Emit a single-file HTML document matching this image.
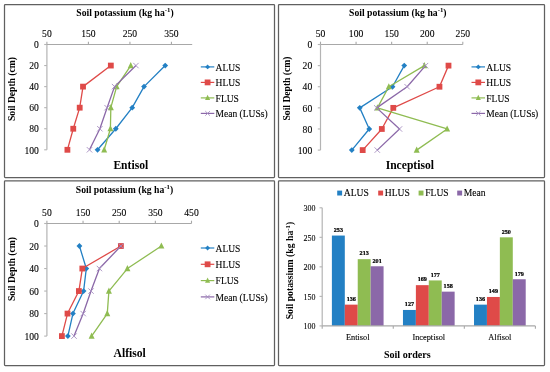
<!DOCTYPE html><html><head><meta charset="utf-8"><style>html,body{margin:0;padding:0;background:#fff;}svg{display:block;filter:blur(0.3px);}</style></head><body><svg width="550" height="372" viewBox="0 0 550 372" font-family='"Liberation Serif", serif' fill="#000">
<rect width="550" height="372" fill="#fff"/>
<rect x="4.5" y="4.5" width="270.0" height="173.0" fill="none" stroke="#606060" stroke-width="1.25" rx="0.8"/>
<rect x="278.5" y="4.5" width="266.0" height="173.0" fill="none" stroke="#606060" stroke-width="1.25" rx="0.8"/>
<rect x="4.5" y="180.8" width="270.0" height="184.7" fill="none" stroke="#606060" stroke-width="1.25" rx="0.8"/>
<rect x="278.5" y="180.8" width="266.0" height="184.7" fill="none" stroke="#606060" stroke-width="1.25" rx="0.8"/>
<path d="M46.9 44.5V149.8" stroke="#b4b4b4" stroke-width="1.2" fill="none"/>
<path d="M46.9 44.5H192.2" stroke="#a8a8a8" stroke-width="1.1" fill="none"/>
<path d="M44.20 44.50H46.9" stroke="#b4b4b4" stroke-width="1.1"/>
<text x="38.8" y="48.2" font-size="9.6" text-anchor="end" font-weight="normal" stroke="currentColor" stroke-width="0.1" >0</text>
<path d="M44.20 65.56H46.9" stroke="#b4b4b4" stroke-width="1.1"/>
<text x="38.8" y="69.26" font-size="9.6" text-anchor="end" font-weight="normal" stroke="currentColor" stroke-width="0.1" >20</text>
<path d="M44.20 86.62H46.9" stroke="#b4b4b4" stroke-width="1.1"/>
<text x="38.8" y="90.32" font-size="9.6" text-anchor="end" font-weight="normal" stroke="currentColor" stroke-width="0.1" >40</text>
<path d="M44.20 107.68H46.9" stroke="#b4b4b4" stroke-width="1.1"/>
<text x="38.8" y="111.38" font-size="9.6" text-anchor="end" font-weight="normal" stroke="currentColor" stroke-width="0.1" >60</text>
<path d="M44.20 128.74H46.9" stroke="#b4b4b4" stroke-width="1.1"/>
<text x="38.8" y="132.44" font-size="9.6" text-anchor="end" font-weight="normal" stroke="currentColor" stroke-width="0.1" >80</text>
<path d="M44.20 149.80H46.9" stroke="#b4b4b4" stroke-width="1.1"/>
<text x="38.8" y="153.5" font-size="9.6" text-anchor="end" font-weight="normal" stroke="currentColor" stroke-width="0.1" >100</text>
<path d="M46.90 41.7V44.5" stroke="#a8a8a8" stroke-width="1.1"/>
<text x="46.9" y="36.9" font-size="9.6" text-anchor="middle" font-weight="normal" stroke="currentColor" stroke-width="0.1" >50</text>
<path d="M88.41 41.7V44.5" stroke="#a8a8a8" stroke-width="1.1"/>
<text x="88.41" y="36.9" font-size="9.6" text-anchor="middle" font-weight="normal" stroke="currentColor" stroke-width="0.1" >150</text>
<path d="M129.93 41.7V44.5" stroke="#a8a8a8" stroke-width="1.1"/>
<text x="129.93" y="36.9" font-size="9.6" text-anchor="middle" font-weight="normal" stroke="currentColor" stroke-width="0.1" >250</text>
<path d="M171.44 41.7V44.5" stroke="#a8a8a8" stroke-width="1.1"/>
<text x="171.44" y="36.9" font-size="9.6" text-anchor="middle" font-weight="normal" stroke="currentColor" stroke-width="0.1" >350</text>
<path d="M165.22 65.56L144.04 86.62L132.21 107.68L115.81 128.74L97.55 149.80" stroke="#2380c4" stroke-width="1.3" fill="none" stroke-linejoin="round"/>
<path d="M165.22 62.66L168.12 65.56L165.22 68.46L162.32 65.56Z" fill="#2380c4"/>
<path d="M144.04 83.72L146.94 86.62L144.04 89.52L141.14 86.62Z" fill="#2380c4"/>
<path d="M132.21 104.78L135.11 107.68L132.21 110.58L129.31 107.68Z" fill="#2380c4"/>
<path d="M115.81 125.84L118.71 128.74L115.81 131.64L112.91 128.74Z" fill="#2380c4"/>
<path d="M97.55 146.90L100.45 149.80L97.55 152.70L94.65 149.80Z" fill="#2380c4"/>
<path d="M110.83 65.56L83.02 86.62L79.70 107.68L73.26 128.74L67.41 149.80" stroke="#df4a48" stroke-width="1.3" fill="none" stroke-linejoin="round"/>
<rect x="107.93" y="62.66" width="5.80" height="5.80" fill="#df4a48"/>
<rect x="80.12" y="83.72" width="5.80" height="5.80" fill="#df4a48"/>
<rect x="76.80" y="104.78" width="5.80" height="5.80" fill="#df4a48"/>
<rect x="70.36" y="125.84" width="5.80" height="5.80" fill="#df4a48"/>
<rect x="64.51" y="146.90" width="5.80" height="5.80" fill="#df4a48"/>
<path d="M130.76 65.56L116.64 86.62L110.83 107.68L110.42 128.74L104.19 149.80" stroke="#8fbc52" stroke-width="1.3" fill="none" stroke-linejoin="round"/>
<path d="M130.76 61.96L133.76 68.16L127.76 68.16Z" fill="#8fbc52"/>
<path d="M116.64 83.02L119.64 89.22L113.64 89.22Z" fill="#8fbc52"/>
<path d="M110.83 104.08L113.83 110.28L107.83 110.28Z" fill="#8fbc52"/>
<path d="M110.42 125.14L113.42 131.34L107.42 131.34Z" fill="#8fbc52"/>
<path d="M104.19 146.20L107.19 152.40L101.19 152.40Z" fill="#8fbc52"/>
<path d="M135.95 65.56L114.57 86.62L107.10 107.68L99.87 128.74L89.49 149.80" stroke="#8b68a8" stroke-width="1.3" fill="none" stroke-linejoin="round"/>
<path d="M133.25 62.86L138.65 68.26M138.65 62.86L133.25 68.26" stroke="#a58cc0" stroke-width="0.9" fill="none"/>
<path d="M111.87 83.92L117.27 89.32M117.27 83.92L111.87 89.32" stroke="#a58cc0" stroke-width="0.9" fill="none"/>
<path d="M104.40 104.98L109.80 110.38M109.80 104.98L104.40 110.38" stroke="#a58cc0" stroke-width="0.9" fill="none"/>
<path d="M97.17 126.04L102.57 131.44M102.57 126.04L97.17 131.44" stroke="#a58cc0" stroke-width="0.9" fill="none"/>
<path d="M86.79 147.10L92.19 152.50M92.19 147.10L86.79 152.50" stroke="#a58cc0" stroke-width="0.9" fill="none"/>
<path d="M200.8 66.90H214.3" stroke="#2380c4" stroke-width="1.2"/>
<path d="M207.60 64.44L210.07 66.90L207.60 69.37L205.14 66.90Z" fill="#2380c4"/>
<text x="215.60000000000002" y="70.5" font-size="9.5" text-anchor="start" font-weight="normal" stroke="currentColor" stroke-width="0.1" >ALUS</text>
<path d="M200.8 82.40H214.3" stroke="#df4a48" stroke-width="1.2"/>
<rect x="204.70" y="79.50" width="5.80" height="5.80" fill="#df4a48"/>
<text x="215.60000000000002" y="86.0" font-size="9.5" text-anchor="start" font-weight="normal" stroke="currentColor" stroke-width="0.1" >HLUS</text>
<path d="M200.8 97.90H214.3" stroke="#8fbc52" stroke-width="1.2"/>
<path d="M207.60 94.75L210.15 100.05L205.05 100.05Z" fill="#8fbc52"/>
<text x="215.60000000000002" y="101.5" font-size="9.5" text-anchor="start" font-weight="normal" stroke="currentColor" stroke-width="0.1" >FLUS</text>
<path d="M200.8 113.40H214.3" stroke="#8b68a8" stroke-width="1.2"/>
<path d="M205.31 111.11L209.90 115.70M209.90 111.11L205.31 115.70" stroke="#a58cc0" stroke-width="0.9" fill="none"/>
<text x="215.60000000000002" y="117.0" font-size="9.5" text-anchor="start" font-weight="normal" stroke="currentColor" stroke-width="0.1" >Mean (LUSs)</text>
<text x="130.8" y="169" font-size="11.6" text-anchor="middle" font-weight="bold" >Entisol</text>
<text x="125" y="16" font-size="9.7" text-anchor="middle" font-weight="bold" >Soil potassium (kg ha<tspan font-size="6.8" dy="-3.6">-1</tspan><tspan dy="3.6">)</tspan></text>
<text x="0" y="0" font-size="9.6" text-anchor="middle" font-weight="bold" transform="translate(15.0 89) rotate(-90)">Soil Depth (cm)</text>
<path d="M320.5 44.5V150.1" stroke="#b4b4b4" stroke-width="1.2" fill="none"/>
<path d="M320.5 44.5H462.8" stroke="#a8a8a8" stroke-width="1.1" fill="none"/>
<path d="M317.80 44.50H320.5" stroke="#b4b4b4" stroke-width="1.1"/>
<text x="312.2" y="48.2" font-size="9.6" text-anchor="end" font-weight="normal" stroke="currentColor" stroke-width="0.1" >0</text>
<path d="M317.80 65.62H320.5" stroke="#b4b4b4" stroke-width="1.1"/>
<text x="312.2" y="69.32" font-size="9.6" text-anchor="end" font-weight="normal" stroke="currentColor" stroke-width="0.1" >20</text>
<path d="M317.80 86.74H320.5" stroke="#b4b4b4" stroke-width="1.1"/>
<text x="312.2" y="90.44" font-size="9.6" text-anchor="end" font-weight="normal" stroke="currentColor" stroke-width="0.1" >40</text>
<path d="M317.80 107.86H320.5" stroke="#b4b4b4" stroke-width="1.1"/>
<text x="312.2" y="111.56" font-size="9.6" text-anchor="end" font-weight="normal" stroke="currentColor" stroke-width="0.1" >60</text>
<path d="M317.80 128.98H320.5" stroke="#b4b4b4" stroke-width="1.1"/>
<text x="312.2" y="132.68" font-size="9.6" text-anchor="end" font-weight="normal" stroke="currentColor" stroke-width="0.1" >80</text>
<path d="M317.80 150.10H320.5" stroke="#b4b4b4" stroke-width="1.1"/>
<text x="312.2" y="153.8" font-size="9.6" text-anchor="end" font-weight="normal" stroke="currentColor" stroke-width="0.1" >100</text>
<path d="M320.50 41.7V44.5" stroke="#a8a8a8" stroke-width="1.1"/>
<text x="320.5" y="36.9" font-size="9.6" text-anchor="middle" font-weight="normal" stroke="currentColor" stroke-width="0.1" >50</text>
<path d="M356.07 41.7V44.5" stroke="#a8a8a8" stroke-width="1.1"/>
<text x="356.07" y="36.9" font-size="9.6" text-anchor="middle" font-weight="normal" stroke="currentColor" stroke-width="0.1" >100</text>
<path d="M391.65 41.7V44.5" stroke="#a8a8a8" stroke-width="1.1"/>
<text x="391.65" y="36.9" font-size="9.6" text-anchor="middle" font-weight="normal" stroke="currentColor" stroke-width="0.1" >150</text>
<path d="M427.23 41.7V44.5" stroke="#a8a8a8" stroke-width="1.1"/>
<text x="427.23" y="36.9" font-size="9.6" text-anchor="middle" font-weight="normal" stroke="currentColor" stroke-width="0.1" >200</text>
<path d="M462.80 41.7V44.5" stroke="#a8a8a8" stroke-width="1.1"/>
<text x="462.8" y="36.9" font-size="9.6" text-anchor="middle" font-weight="normal" stroke="currentColor" stroke-width="0.1" >250</text>
<path d="M404.24 65.62L392.50 86.74L359.77 107.86L369.24 128.98L351.81 150.10" stroke="#2380c4" stroke-width="1.3" fill="none" stroke-linejoin="round"/>
<path d="M404.24 62.72L407.14 65.62L404.24 68.52L401.34 65.62Z" fill="#2380c4"/>
<path d="M392.50 83.84L395.40 86.74L392.50 89.64L389.60 86.74Z" fill="#2380c4"/>
<path d="M359.77 104.96L362.67 107.86L359.77 110.76L356.87 107.86Z" fill="#2380c4"/>
<path d="M369.24 126.08L372.14 128.98L369.24 131.88L366.34 128.98Z" fill="#2380c4"/>
<path d="M351.81 147.20L354.71 150.10L351.81 153.00L348.91 150.10Z" fill="#2380c4"/>
<path d="M448.50 65.62L439.46 86.74L393.29 107.86L381.83 128.98L362.69 150.10" stroke="#df4a48" stroke-width="1.3" fill="none" stroke-linejoin="round"/>
<rect x="445.60" y="62.72" width="5.80" height="5.80" fill="#df4a48"/>
<rect x="436.56" y="83.84" width="5.80" height="5.80" fill="#df4a48"/>
<rect x="390.39" y="104.96" width="5.80" height="5.80" fill="#df4a48"/>
<rect x="378.93" y="126.08" width="5.80" height="5.80" fill="#df4a48"/>
<rect x="359.79" y="147.20" width="5.80" height="5.80" fill="#df4a48"/>
<path d="M424.38 65.62L388.80 86.74L377.42 107.86L447.15 128.98L416.69 150.10" stroke="#8fbc52" stroke-width="1.3" fill="none" stroke-linejoin="round"/>
<path d="M424.38 62.02L427.38 68.22L421.38 68.22Z" fill="#8fbc52"/>
<path d="M388.80 83.14L391.80 89.34L385.80 89.34Z" fill="#8fbc52"/>
<path d="M377.42 104.26L380.42 110.46L374.42 110.46Z" fill="#8fbc52"/>
<path d="M447.15 125.38L450.15 131.58L444.15 131.58Z" fill="#8fbc52"/>
<path d="M416.69 146.50L419.69 152.70L413.69 152.70Z" fill="#8fbc52"/>
<path d="M425.52 65.62L407.16 86.74L376.71 107.86L399.48 128.98L377.28 150.10" stroke="#8b68a8" stroke-width="1.3" fill="none" stroke-linejoin="round"/>
<path d="M422.82 62.92L428.22 68.32M428.22 62.92L422.82 68.32" stroke="#a58cc0" stroke-width="0.9" fill="none"/>
<path d="M404.46 84.04L409.86 89.44M409.86 84.04L404.46 89.44" stroke="#a58cc0" stroke-width="0.9" fill="none"/>
<path d="M374.01 105.16L379.41 110.56M379.41 105.16L374.01 110.56" stroke="#a58cc0" stroke-width="0.9" fill="none"/>
<path d="M396.78 126.28L402.18 131.68M402.18 126.28L396.78 131.68" stroke="#a58cc0" stroke-width="0.9" fill="none"/>
<path d="M374.58 147.40L379.98 152.80M379.98 147.40L374.58 152.80" stroke="#a58cc0" stroke-width="0.9" fill="none"/>
<path d="M471.5 66.90H485" stroke="#2380c4" stroke-width="1.2"/>
<path d="M478.30 64.44L480.76 66.90L478.30 69.37L475.84 66.90Z" fill="#2380c4"/>
<text x="486.3" y="70.5" font-size="9.5" text-anchor="start" font-weight="normal" stroke="currentColor" stroke-width="0.1" >ALUS</text>
<path d="M471.5 82.40H485" stroke="#df4a48" stroke-width="1.2"/>
<rect x="475.40" y="79.50" width="5.80" height="5.80" fill="#df4a48"/>
<text x="486.3" y="86.0" font-size="9.5" text-anchor="start" font-weight="normal" stroke="currentColor" stroke-width="0.1" >HLUS</text>
<path d="M471.5 97.90H485" stroke="#8fbc52" stroke-width="1.2"/>
<path d="M478.30 94.75L480.85 100.05L475.75 100.05Z" fill="#8fbc52"/>
<text x="486.3" y="101.5" font-size="9.5" text-anchor="start" font-weight="normal" stroke="currentColor" stroke-width="0.1" >FLUS</text>
<path d="M471.5 113.40H485" stroke="#8b68a8" stroke-width="1.2"/>
<path d="M476.00 111.11L480.60 115.70M480.60 111.11L476.00 115.70" stroke="#a58cc0" stroke-width="0.9" fill="none"/>
<text x="486.3" y="117.0" font-size="9.5" text-anchor="start" font-weight="normal" stroke="currentColor" stroke-width="0.1" >Mean (LUSs)</text>
<text x="409.8" y="169" font-size="11.6" text-anchor="middle" font-weight="bold" >Inceptisol</text>
<text x="397.8" y="16" font-size="9.7" text-anchor="middle" font-weight="bold" >Soil potassium (kg ha<tspan font-size="6.8" dy="-3.6">-1</tspan><tspan dy="3.6">)</tspan></text>
<text x="0" y="0" font-size="9.6" text-anchor="middle" font-weight="bold" transform="translate(289.9 88.5) rotate(-90)">Soil Depth (cm)</text>
<path d="M46.9 223.5V336.1" stroke="#b4b4b4" stroke-width="1.2" fill="none"/>
<path d="M46.9 223.5H191.5" stroke="#a8a8a8" stroke-width="1.1" fill="none"/>
<path d="M44.20 223.50H46.9" stroke="#b4b4b4" stroke-width="1.1"/>
<text x="38.8" y="227.2" font-size="9.6" text-anchor="end" font-weight="normal" stroke="currentColor" stroke-width="0.1" >0</text>
<path d="M44.20 246.02H46.9" stroke="#b4b4b4" stroke-width="1.1"/>
<text x="38.8" y="249.72" font-size="9.6" text-anchor="end" font-weight="normal" stroke="currentColor" stroke-width="0.1" >20</text>
<path d="M44.20 268.54H46.9" stroke="#b4b4b4" stroke-width="1.1"/>
<text x="38.8" y="272.24" font-size="9.6" text-anchor="end" font-weight="normal" stroke="currentColor" stroke-width="0.1" >40</text>
<path d="M44.20 291.06H46.9" stroke="#b4b4b4" stroke-width="1.1"/>
<text x="38.8" y="294.76" font-size="9.6" text-anchor="end" font-weight="normal" stroke="currentColor" stroke-width="0.1" >60</text>
<path d="M44.20 313.58H46.9" stroke="#b4b4b4" stroke-width="1.1"/>
<text x="38.8" y="317.28" font-size="9.6" text-anchor="end" font-weight="normal" stroke="currentColor" stroke-width="0.1" >80</text>
<path d="M44.20 336.10H46.9" stroke="#b4b4b4" stroke-width="1.1"/>
<text x="38.8" y="339.8" font-size="9.6" text-anchor="end" font-weight="normal" stroke="currentColor" stroke-width="0.1" >100</text>
<path d="M46.90 220.7V223.5" stroke="#a8a8a8" stroke-width="1.1"/>
<text x="46.9" y="215.9" font-size="9.6" text-anchor="middle" font-weight="normal" stroke="currentColor" stroke-width="0.1" >50</text>
<path d="M83.05 220.7V223.5" stroke="#a8a8a8" stroke-width="1.1"/>
<text x="83.05" y="215.9" font-size="9.6" text-anchor="middle" font-weight="normal" stroke="currentColor" stroke-width="0.1" >150</text>
<path d="M119.20 220.7V223.5" stroke="#a8a8a8" stroke-width="1.1"/>
<text x="119.2" y="215.9" font-size="9.6" text-anchor="middle" font-weight="normal" stroke="currentColor" stroke-width="0.1" >250</text>
<path d="M155.35 220.7V223.5" stroke="#a8a8a8" stroke-width="1.1"/>
<text x="155.35" y="215.9" font-size="9.6" text-anchor="middle" font-weight="normal" stroke="currentColor" stroke-width="0.1" >350</text>
<path d="M191.50 220.7V223.5" stroke="#a8a8a8" stroke-width="1.1"/>
<text x="191.5" y="215.9" font-size="9.6" text-anchor="middle" font-weight="normal" stroke="currentColor" stroke-width="0.1" >450</text>
<path d="M79.44 246.02L86.30 268.54L83.59 291.06L72.93 313.58L67.87 336.10" stroke="#2380c4" stroke-width="1.3" fill="none" stroke-linejoin="round"/>
<path d="M79.44 243.12L82.34 246.02L79.44 248.92L76.53 246.02Z" fill="#2380c4"/>
<path d="M86.30 265.64L89.20 268.54L86.30 271.44L83.40 268.54Z" fill="#2380c4"/>
<path d="M83.59 288.16L86.49 291.06L83.59 293.96L80.69 291.06Z" fill="#2380c4"/>
<path d="M72.93 310.68L75.83 313.58L72.93 316.48L70.03 313.58Z" fill="#2380c4"/>
<path d="M67.87 333.20L70.77 336.10L67.87 339.00L64.97 336.10Z" fill="#2380c4"/>
<path d="M120.90 246.02L82.33 268.54L78.89 291.06L67.51 313.58L61.90 336.10" stroke="#df4a48" stroke-width="1.3" fill="none" stroke-linejoin="round"/>
<rect x="118.00" y="243.12" width="5.80" height="5.80" fill="#df4a48"/>
<rect x="79.43" y="265.64" width="5.80" height="5.80" fill="#df4a48"/>
<rect x="75.99" y="288.16" width="5.80" height="5.80" fill="#df4a48"/>
<rect x="64.61" y="310.68" width="5.80" height="5.80" fill="#df4a48"/>
<rect x="59.00" y="333.20" width="5.80" height="5.80" fill="#df4a48"/>
<path d="M161.39 246.02L127.41 268.54L108.90 291.06L107.27 313.58L91.62 336.10" stroke="#8fbc52" stroke-width="1.3" fill="none" stroke-linejoin="round"/>
<path d="M161.39 242.42L164.39 248.62L158.39 248.62Z" fill="#8fbc52"/>
<path d="M127.41 264.94L130.41 271.14L124.41 271.14Z" fill="#8fbc52"/>
<path d="M108.90 287.46L111.90 293.66L105.90 293.66Z" fill="#8fbc52"/>
<path d="M107.27 309.98L110.27 316.18L104.27 316.18Z" fill="#8fbc52"/>
<path d="M91.62 332.50L94.62 338.70L88.62 338.70Z" fill="#8fbc52"/>
<path d="M120.90 246.02L99.43 268.54L91.00 291.06L83.19 313.58L74.01 336.10" stroke="#8b68a8" stroke-width="1.3" fill="none" stroke-linejoin="round"/>
<path d="M118.20 243.32L123.60 248.72M123.60 243.32L118.20 248.72" stroke="#a58cc0" stroke-width="0.9" fill="none"/>
<path d="M96.73 265.84L102.13 271.24M102.13 265.84L96.73 271.24" stroke="#a58cc0" stroke-width="0.9" fill="none"/>
<path d="M88.30 288.36L93.70 293.76M93.70 288.36L88.30 293.76" stroke="#a58cc0" stroke-width="0.9" fill="none"/>
<path d="M80.49 310.88L85.89 316.28M85.89 310.88L80.49 316.28" stroke="#a58cc0" stroke-width="0.9" fill="none"/>
<path d="M71.31 333.40L76.71 338.80M76.71 333.40L71.31 338.80" stroke="#a58cc0" stroke-width="0.9" fill="none"/>
<path d="M200.8 248.00H214.3" stroke="#2380c4" stroke-width="1.2"/>
<path d="M207.60 245.53L210.07 248.00L207.60 250.47L205.14 248.00Z" fill="#2380c4"/>
<text x="215.60000000000002" y="251.6" font-size="9.5" text-anchor="start" font-weight="normal" stroke="currentColor" stroke-width="0.1" >ALUS</text>
<path d="M200.8 264.30H214.3" stroke="#df4a48" stroke-width="1.2"/>
<rect x="204.70" y="261.40" width="5.80" height="5.80" fill="#df4a48"/>
<text x="215.60000000000002" y="267.9" font-size="9.5" text-anchor="start" font-weight="normal" stroke="currentColor" stroke-width="0.1" >HLUS</text>
<path d="M200.8 280.60H214.3" stroke="#8fbc52" stroke-width="1.2"/>
<path d="M207.60 277.45L210.15 282.75L205.05 282.75Z" fill="#8fbc52"/>
<text x="215.60000000000002" y="284.2" font-size="9.5" text-anchor="start" font-weight="normal" stroke="currentColor" stroke-width="0.1" >FLUS</text>
<path d="M200.8 296.90H214.3" stroke="#8b68a8" stroke-width="1.2"/>
<path d="M205.31 294.60L209.90 299.19M209.90 294.60L205.31 299.19" stroke="#a58cc0" stroke-width="0.9" fill="none"/>
<text x="215.60000000000002" y="300.5" font-size="9.5" text-anchor="start" font-weight="normal" stroke="currentColor" stroke-width="0.1" >Mean (LUSs)</text>
<text x="129.7" y="356.5" font-size="11.6" text-anchor="middle" font-weight="bold" >Alfisol</text>
<text x="124.5" y="193" font-size="9.7" text-anchor="middle" font-weight="bold" >Soil potassium (kg ha<tspan font-size="6.8" dy="-3.6">-1</tspan><tspan dy="3.6">)</tspan></text>
<text x="0" y="0" font-size="9.6" text-anchor="middle" font-weight="bold" transform="translate(15.0 269) rotate(-90)">Soil Depth (cm)</text>
<path d="M322.2 207.8V325.9" stroke="#b4b4b4" stroke-width="1.2" fill="none"/>
<path d="M319.50 325.90H322.2" stroke="#b4b4b4" stroke-width="1.1"/>
<text x="0" y="0" font-size="8.9" text-anchor="end" font-weight="normal" stroke="currentColor" stroke-width="0.1" transform="translate(315.50 329.40) scale(0.9 1)">100</text>
<path d="M319.50 296.38H322.2" stroke="#b4b4b4" stroke-width="1.1"/>
<text x="0" y="0" font-size="8.9" text-anchor="end" font-weight="normal" stroke="currentColor" stroke-width="0.1" transform="translate(315.50 299.88) scale(0.9 1)">150</text>
<path d="M319.50 266.85H322.2" stroke="#b4b4b4" stroke-width="1.1"/>
<text x="0" y="0" font-size="8.9" text-anchor="end" font-weight="normal" stroke="currentColor" stroke-width="0.1" transform="translate(315.50 270.35) scale(0.9 1)">200</text>
<path d="M319.50 237.32H322.2" stroke="#b4b4b4" stroke-width="1.1"/>
<text x="0" y="0" font-size="8.9" text-anchor="end" font-weight="normal" stroke="currentColor" stroke-width="0.1" transform="translate(315.50 240.82) scale(0.9 1)">250</text>
<path d="M319.50 207.80H322.2" stroke="#b4b4b4" stroke-width="1.1"/>
<text x="0" y="0" font-size="8.9" text-anchor="end" font-weight="normal" stroke="currentColor" stroke-width="0.1" transform="translate(315.50 211.30) scale(0.9 1)">300</text>
<rect x="331.89" y="235.55" width="12.92" height="90.35" fill="#2380c4"/>
<text x="0" y="0" font-size="7.0" text-anchor="middle" font-weight="bold" stroke="#000" stroke-width="0.25" transform="translate(338.35 231.85) scale(0.88 1)">253</text>
<rect x="344.81" y="304.64" width="12.92" height="21.26" fill="#df4a48"/>
<text x="0" y="0" font-size="7.0" text-anchor="middle" font-weight="bold" stroke="#000" stroke-width="0.25" transform="translate(351.27 300.94) scale(0.88 1)">136</text>
<rect x="357.73" y="259.17" width="12.92" height="66.73" fill="#8fbc52"/>
<text x="0" y="0" font-size="7.0" text-anchor="middle" font-weight="bold" stroke="#000" stroke-width="0.25" transform="translate(364.19 255.47) scale(0.88 1)">213</text>
<rect x="370.65" y="266.26" width="12.92" height="59.64" fill="#8b68a8"/>
<text x="0" y="0" font-size="7.0" text-anchor="middle" font-weight="bold" stroke="#000" stroke-width="0.25" transform="translate(377.12 262.56) scale(0.88 1)">201</text>
<text x="357.73" y="339.6" font-size="8.3" text-anchor="middle" font-weight="normal" stroke="currentColor" stroke-width="0.1" >Entisol</text>
<rect x="402.96" y="309.96" width="12.92" height="15.94" fill="#2380c4"/>
<text x="0" y="0" font-size="7.0" text-anchor="middle" font-weight="bold" stroke="#000" stroke-width="0.25" transform="translate(409.42 306.26) scale(0.88 1)">127</text>
<rect x="415.88" y="285.16" width="12.92" height="40.74" fill="#df4a48"/>
<text x="0" y="0" font-size="7.0" text-anchor="middle" font-weight="bold" stroke="#000" stroke-width="0.25" transform="translate(422.34 281.46) scale(0.88 1)">169</text>
<rect x="428.80" y="280.43" width="12.92" height="45.47" fill="#8fbc52"/>
<text x="0" y="0" font-size="7.0" text-anchor="middle" font-weight="bold" stroke="#000" stroke-width="0.25" transform="translate(435.26 276.73) scale(0.88 1)">177</text>
<rect x="441.72" y="291.65" width="12.92" height="34.25" fill="#8b68a8"/>
<text x="0" y="0" font-size="7.0" text-anchor="middle" font-weight="bold" stroke="#000" stroke-width="0.25" transform="translate(448.18 287.95) scale(0.88 1)">158</text>
<text x="428.8" y="339.6" font-size="8.3" text-anchor="middle" font-weight="normal" stroke="currentColor" stroke-width="0.1" >Inceptisol</text>
<rect x="474.02" y="304.64" width="12.92" height="21.26" fill="#2380c4"/>
<text x="0" y="0" font-size="7.0" text-anchor="middle" font-weight="bold" stroke="#000" stroke-width="0.25" transform="translate(480.48 300.94) scale(0.88 1)">136</text>
<rect x="486.95" y="296.97" width="12.92" height="28.93" fill="#df4a48"/>
<text x="0" y="0" font-size="7.0" text-anchor="middle" font-weight="bold" stroke="#000" stroke-width="0.25" transform="translate(493.41 293.27) scale(0.88 1)">149</text>
<rect x="499.87" y="237.32" width="12.92" height="88.57" fill="#8fbc52"/>
<text x="0" y="0" font-size="7.0" text-anchor="middle" font-weight="bold" stroke="#000" stroke-width="0.25" transform="translate(506.33 233.62) scale(0.88 1)">250</text>
<rect x="512.79" y="279.25" width="12.92" height="46.65" fill="#8b68a8"/>
<text x="0" y="0" font-size="7.0" text-anchor="middle" font-weight="bold" stroke="#000" stroke-width="0.25" transform="translate(519.25 275.55) scale(0.88 1)">179</text>
<text x="499.87" y="339.6" font-size="8.3" text-anchor="middle" font-weight="normal" stroke="currentColor" stroke-width="0.1" >Alfisol</text>
<path d="M322.2 325.9H535.4" stroke="#a8a8a8" stroke-width="1.1" fill="none"/>
<path d="M322.20 325.9V328.7" stroke="#a8a8a8" stroke-width="1.1"/>
<path d="M393.27 325.9V328.7" stroke="#a8a8a8" stroke-width="1.1"/>
<path d="M464.33 325.9V328.7" stroke="#a8a8a8" stroke-width="1.1"/>
<path d="M535.40 325.9V328.7" stroke="#a8a8a8" stroke-width="1.1"/>
<text x="407.3" y="358.1" font-size="10.1" text-anchor="middle" font-weight="bold" >Soil orders</text>
<text x="0" y="0" font-size="9.7" text-anchor="middle" font-weight="bold" transform="translate(293.4 270.6) rotate(-90)">Soil potassium (kg ha<tspan font-size="6.8" dy="-3.6">-1</tspan><tspan dy="3.6">)</tspan></text>
<rect x="337.2" y="190.6" width="4.9" height="4.9" fill="#2380c4"/>
<text x="343.8" y="196.4" font-size="9.6" text-anchor="start" font-weight="normal" stroke="currentColor" stroke-width="0.1" >ALUS</text>
<rect x="378.2" y="190.6" width="4.9" height="4.9" fill="#df4a48"/>
<text x="384.8" y="196.4" font-size="9.6" text-anchor="start" font-weight="normal" stroke="currentColor" stroke-width="0.1" >HLUS</text>
<rect x="418.59999999999997" y="190.6" width="4.9" height="4.9" fill="#8fbc52"/>
<text x="425.2" y="196.4" font-size="9.6" text-anchor="start" font-weight="normal" stroke="currentColor" stroke-width="0.1" >FLUS</text>
<rect x="457.2" y="190.6" width="4.9" height="4.9" fill="#8b68a8"/>
<text x="463.8" y="196.4" font-size="9.6" text-anchor="start" font-weight="normal" stroke="currentColor" stroke-width="0.1" >Mean</text>
</svg></body></html>
